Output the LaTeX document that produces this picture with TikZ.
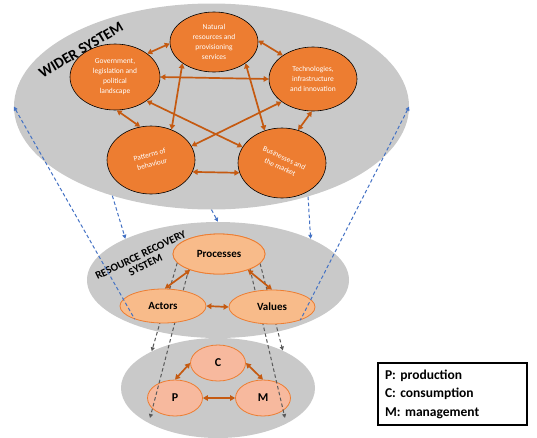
\documentclass[tikz,border=0pt]{standalone}
\usepackage{fontspec}
\setmainfont{Carlito}
\usetikzlibrary{arrows.meta,shapes.geometric}

\begin{document}
\begin{tikzpicture}[
  x=1pt, y=-1pt,
  % --- node styles ---
  sys/.style={ellipse, fill=cGray, minimum width=#1, inner sep=0pt},
  wnode/.style={ellipse, draw=black, line width=0.6pt, fill=cOrange,
                text=white, font=\fontsize{7.5}{10}\selectfont, align=center,
                minimum width=88pt, minimum height=66pt, inner sep=0pt},
  rnode/.style={ellipse, draw=cOrange, line width=0.8pt, fill=cLight,
                font=\fontsize{11}{13}\selectfont\bfseries,
                minimum width=86pt, minimum height=34pt, inner sep=0pt},
  bnode/.style={ellipse, draw=cOrange, line width=0.8pt, fill=cPale,
                font=\fontsize{12}{14}\selectfont\bfseries,
                minimum width=55pt, minimum height=36pt, inner sep=0pt},
  dbl/.style={{Triangle[length=5pt,width=5.5pt]}-{Triangle[length=5pt,width=5.5pt]},
              draw=cArrow, line width=1.7pt},
  blue/.style={draw=cBlue, line width=1pt, dash pattern=on 3.5pt off 2.5pt,
               -{Triangle[length=4pt,width=4pt]}},
  grey/.style={draw=cDash, line width=1pt, dash pattern=on 3.5pt off 2.5pt,
               -{Triangle[length=4pt,width=4pt]}},
  ttl/.style={font=\fontsize{#1}{#1}\selectfont\bfseries, align=center},
]
  % --- colours ---
  \definecolor{cGray}{RGB}{201,201,201}
  \definecolor{cOrange}{RGB}{237,125,49}
  \definecolor{cArrow}{RGB}{197,90,17}
  \definecolor{cLight}{RGB}{248,187,138}
  \definecolor{cPale}{RGB}{247,185,158}
  \definecolor{cBlue}{RGB}{68,114,196}
  \definecolor{cDash}{RGB}{90,90,90}

  \useasboundingbox (0,0) rectangle (537,437);

  % --- system ellipses ---
  \node[sys=395pt, minimum height=206pt] (wider) at (211.5,106.5) {};
  \node[sys=194pt, minimum height=100pt] (cpm)   at (218,388) {};

  % --- bottom system ---
  \node[bnode] (c) at (218,363) {C};
  \node[bnode] (p) at (175,398) {P};
  \node[bnode] (m) at (263,398) {M};
  \draw[dbl] (p.90) -- (c.180);
  \draw[dbl] (c.0)  -- (m.90);
  \draw[dbl] (p.0)  -- (m.180);

  % --- resource recovery system ---
  \node[sys=262pt, minimum height=116pt] (rrs) at (218,280) {};

  % free ends of the grey links
  \coordinate (gp) at (150,418);
  \coordinate (gm) at (285,418);

  \node[rnode, minimum width=92pt, minimum height=40pt] (proc) at (219,254) {};
  \draw[grey] (proc.192) -- (cpm.151);
  \draw[grey] (proc.207) -- (gp);
  \draw[grey] (proc.347) -- (cpm.30);
  \draw[grey] (proc.334) -- (gm);

  \node[rnode, minimum width=92pt, minimum height=40pt] at (proc) {Processes};
  \node[rnode] (act) at (163,306) {Actors};
  \node[rnode] (val) at (272,307) {Values};
  \draw[dbl] (act.84)  -- (proc.209);
  \draw[dbl] (proc.331) -- (val.90);
  \draw[dbl] (act.0)   -- (val.180);

  \node[ttl=11, rotate=26] (rrlbl) at (143,260) {RESOURCE RECOVERY\\SYSTEM};

  % --- links between wider and resource recovery system ---
  \draw[blue, {Triangle[length=4pt,width=4pt]}-] (wider.west) -- (act.205);
  \draw[blue, {Triangle[length=4pt,width=4pt]}-] (wider.east) -- (val.335);
  \draw[blue] (wider.222) -- (rrs.156);
  \draw[blue] (wider.south) -- (rrs.north);
  \draw[blue] (wider.317) -- (rrs.24);

  % --- wider system ---
  \node[wnode, minimum width=88pt, minimum height=60pt] (nat) at (214,42)
    {Natural\\resources and\\provisioning\\services};
  \node[wnode, minimum width=90pt] (gov) at (115,77)
    {Government,\\legislation and\\political\\landscape};
  \node[wnode, minimum height=64pt] (tec) at (313,79)
    {Technologies,\\infrastructure\\and innovation};
  \node[wnode, minimum height=68pt] (pat) at (151,160)
    {\rotatebox{15}{\begin{tabular}{@{}c@{}}Patterns of\\behaviour\end{tabular}}};
  \node[wnode, minimum height=70pt] (bus) at (282,163)
    {\rotatebox{-25}{\begin{tabular}{@{}c@{}}Businesses and\\the market\end{tabular}}};

  \draw[dbl] (gov.36)  -- (nat.182);
  \draw[dbl] (nat.2)   -- (tec.142);
  \draw[dbl] (gov.0)   -- (tec.180);
  \draw[dbl] (gov.273) -- (pat.108);
  \draw[dbl] (tec.268) -- (bus.64);
  \draw[dbl] (pat.344) -- (bus.193);
  \draw[dbl] (nat.214) -- (pat.56);
  \draw[dbl] (nat.326) -- (bus.118);
  \draw[dbl] (gov.323) -- (bus.158);
  \draw[dbl] (tec.216) -- (pat.19);

  \node[ttl=15, rotate=31] (wlbl) at (81,50) {WIDER SYSTEM};

  % --- legend ---
  \node[draw=black, line width=1.2pt, minimum width=149pt, minimum height=62pt,
        text width=135pt, align=left, inner xsep=7pt,
        font=\fontsize{13.5}{18.5}\selectfont\bfseries\frenchspacing] (leg) at (452.5,394)
    {P: production\\C: consumption\\M: management};
\end{tikzpicture}
\end{document}
